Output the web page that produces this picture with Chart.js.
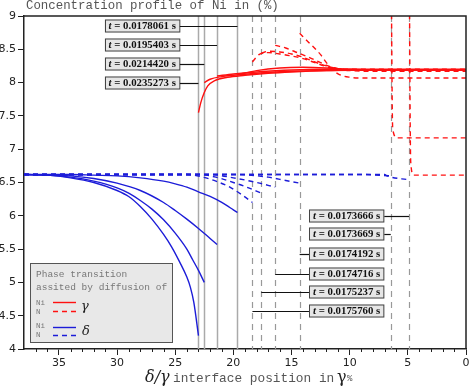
<!DOCTYPE html>
<html>
<head>
<meta charset="utf-8">
<script src="https://cdn.jsdelivr.net/npm/chart.js@4.4.1/dist/chart.umd.min.js"></script>
<style>
  body { margin: 0; background: #fff; }
</style>
</head>
<body>
<canvas id="chart" width="474" height="386"></canvas>
<script>
// profiles, x = interface position (%), y = Ni (%)
// gamma side, Ni (solid red)
var gNiX = [
  [23.0, 22.8, 22.5, 22.2, 21.6, 20.5, 19, 17, 15, 12, 8, 4, 0],
  [22.5, 22, 21, 20, 18, 15, 12, 8, 0],
  [21.4, 20, 18, 15, 12, 8, 0],
  [19.65, 18, 16, 14, 12, 10, 8, 0]
];
var gNiY = [
  [7.55, 7.7, 7.85, 7.95, 8.03, 8.08, 8.11, 8.14, 8.16, 8.18, 8.19, 8.19, 8.19],
  [8.0, 8.05, 8.09, 8.11, 8.14, 8.17, 8.18, 8.19, 8.19],
  [8.1, 8.13, 8.16, 8.19, 8.2, 8.2, 8.2],
  [8.12, 8.18, 8.22, 8.23, 8.22, 8.2, 8.19, 8.19]
];
// gamma side, N (dashed red)
var gNX = [
  [18.36, 17.8, 17, 16, 15, 14, 13, 12, 11, 10, 8, 4, 0],
  [17.6, 17, 16, 15, 14, 13, 12, 11, 10, 0],
  [16.4, 15.5, 14.5, 13.5, 12.5, 11.5, 10.5, 0],
  [14.3, 13.5, 12.5, 12, 11.5, 11, 10, 9, 0],
  [6.47, 6.4, 6.3, 5.9, 0],
  [4.9, 4.85, 4.75, 4.5, 0]
];
var gNY = [
  [8.31, 8.42, 8.45, 8.43, 8.4, 8.36, 8.3, 8.24, 8.2, 8.18, 8.17, 8.17, 8.17],
  [8.44, 8.47, 8.46, 8.43, 8.38, 8.31, 8.25, 8.21, 8.19, 8.19],
  [8.56, 8.52, 8.45, 8.38, 8.3, 8.23, 8.2, 8.2],
  [8.74, 8.6, 8.42, 8.3, 8.2, 8.13, 8.08, 8.07, 8.07],
  [12, 9, 7.3, 7.17, 7.17],
  [12, 9, 6.8, 6.61, 6.61]
];
// delta side, Ni (solid blue)
var dNiX = [
  [38, 36, 34, 32, 30, 28, 26, 25, 24, 23, 22, 21, 20, 19.65],
  [38, 36, 34, 32, 30, 28, 26, 25, 24, 23, 22, 21.4],
  [38, 36, 34, 32, 30, 29, 28, 27, 26, 25, 24, 23.5, 23, 22.5],
  [38, 36, 34, 32, 30, 29, 28, 27, 26, 25.3, 24.6, 24, 23.7, 23.4, 23.0]
];
var dNiY = [
  [6.62, 6.62, 6.62, 6.61, 6.6, 6.57, 6.52, 6.48, 6.43, 6.36, 6.29, 6.2, 6.09, 6.05],
  [6.62, 6.615, 6.6, 6.56, 6.49, 6.38, 6.2, 6.08, 5.95, 5.81, 5.66, 5.57],
  [6.62, 6.61, 6.58, 6.52, 6.42, 6.34, 6.23, 6.1, 5.94, 5.74, 5.5, 5.34, 5.18, 5.0],
  [6.62, 6.61, 6.57, 6.5, 6.38, 6.29, 6.14, 5.95, 5.72, 5.53, 5.3, 5.08, 4.93, 4.7, 4.2]
];
// delta side, N (dashed blue)
var dNX = [
  [38, 24, 22.6, 21.5, 20.3, 19.3, 18.36],
  [38, 23, 21.5, 20, 19, 17.6],
  [38, 22, 20, 18, 16.4],
  [38, 20, 17, 15.5, 14.3],
  [38, 9, 6.47],
  [38, 7, 6.8, 4.9]
];
var dNY = [
  [6.62, 6.62, 6.58, 6.52, 6.43, 6.32, 6.2],
  [6.62, 6.62, 6.58, 6.5, 6.44, 6.34],
  [6.62, 6.62, 6.57, 6.5, 6.43],
  [6.62, 6.62, 6.58, 6.53, 6.49],
  [6.62, 6.62, 6.6],
  [6.62, 6.62, 6.6, 6.54]
];

// interface positions of the snapshots
var solidTimes = [19.65, 21.4, 22.5, 23.0];
var dashedTimes = [18.36, 17.6, 16.4, 14.3, 6.47, 4.9];
var topLabels = ["0.0178061", "0.0195403", "0.0214420", "0.0235273"];
var topLabelAt = [19.65, 21.4, 22.5, 23.0];
var bottomLabels = ["0.0173666", "0.0173669", "0.0174192", "0.0174716", "0.0175237", "0.0175760"];
var bottomLabelAt = [4.9, 6.47, 14.3, 16.4, 17.6, 18.36];

// where the label boxes sit (data coords)
var topBoxRight = 24.6, topBoxY = [8.85, 8.565, 8.28, 8.0];
var botBoxLeft = 13.5, botBoxY = [6.0, 5.73, 5.43, 5.13, 4.86, 4.57];

var RED = "#ff1010", BLUE = "#1c1cd8";
var LFONT = "10.8px 'Liberation Serif'";

function makeSets(xs, ys, color, dashed) {
  return xs.map(function (xa, i) {
    return {
      data: xa.map(function (v, j) { return { x: v, y: ys[i][j] }; }),
      borderColor: color,
      borderWidth: 1.4,
      borderDash: dashed ? [5, 4] : [],
      pointRadius: 0,
      fill: false,
      cubicInterpolationMode: "monotone"
    };
  });
}

var datasets = [].concat(
  makeSets(dNX, dNY, BLUE, true),
  makeSets(dNiX, dNiY, BLUE, false),
  makeSets(gNX, gNY, RED, true),
  makeSets(gNiX, gNiY, RED, false)
);

function labelWidth(ctx, txt) {
  ctx.font = "italic bold " + LFONT;
  var w1 = ctx.measureText("t").width;
  ctx.font = "bold " + LFONT;
  return w1 + ctx.measureText(" = " + txt + " s").width + 8;
}

function drawLabel(ctx, txt, xLeft, yc) {
  ctx.font = "italic bold " + LFONT;
  var w1 = ctx.measureText("t").width;
  var rest = " = " + txt + " s";
  var w = labelWidth(ctx, txt), h = 13;
  ctx.fillStyle = "#e6e6e6";
  ctx.fillRect(xLeft, yc - h / 2, w, h);
  ctx.strokeStyle = "#444";
  ctx.lineWidth = 1;
  ctx.strokeRect(Math.round(xLeft) + 0.5, yc - h / 2 + 0.5, w - 1, h - 1);
  ctx.fillStyle = "#111";
  ctx.textBaseline = "middle";
  ctx.textAlign = "left";
  ctx.font = "italic bold " + LFONT;
  ctx.fillText("t", xLeft + 4, yc + 0.5);
  ctx.font = "bold " + LFONT;
  ctx.fillText(rest, xLeft + 4 + w1, yc + 0.5);
  return w;
}

var decor = {
  id: "decor",
  beforeDatasetsDraw: function (chart) {
    var ctx = chart.ctx, a = chart.chartArea, x = chart.scales.x;
    ctx.save();
    ctx.strokeStyle = "#aaa";
    ctx.lineWidth = 1.5;
    solidTimes.forEach(function (v) {
      var px = Math.round(x.getPixelForValue(v)) + 0.5;
      ctx.beginPath(); ctx.moveTo(px, a.top); ctx.lineTo(px, a.bottom); ctx.stroke();
    });
    ctx.strokeStyle = "#999";
    ctx.lineWidth = 1.2;
    ctx.setLineDash([6, 5]);
    dashedTimes.forEach(function (v) {
      var px = Math.round(x.getPixelForValue(v)) + 0.5;
      ctx.beginPath(); ctx.moveTo(px, a.top); ctx.lineTo(px, a.bottom); ctx.stroke();
    });
    ctx.restore();
  },
  afterDraw: function (chart) {
    var ctx = chart.ctx, a = chart.chartArea, x = chart.scales.x, y = chart.scales.y;
    ctx.save();
    // frame top/right
    ctx.strokeStyle = "#222";
    ctx.lineWidth = 1.5;
    ctx.beginPath();
    ctx.moveTo(a.left, a.top); ctx.lineTo(a.right, a.top); ctx.lineTo(a.right, a.bottom);
    ctx.stroke();
    // minor ticks on x
    ctx.lineWidth = 1;
    for (var v = 1; v < 38; v++) {
      if (v % 5 === 0) continue;
      var px = Math.round(x.getPixelForValue(v)) + 0.5;
      ctx.beginPath(); ctx.moveTo(px, a.bottom); ctx.lineTo(px, a.bottom + 3); ctx.stroke();
    }

    // time labels + connectors
    var i, yc, w, lx;
    for (i = 0; i < topLabels.length; i++) {
      yc = Math.round(y.getPixelForValue(topBoxY[i]));
      var xr = x.getPixelForValue(topBoxRight);
      w = labelWidth(ctx, topLabels[i]);
      drawLabel(ctx, topLabels[i], xr - w, yc);
      lx = x.getPixelForValue(topLabelAt[i]);
      ctx.strokeStyle = "#111"; ctx.lineWidth = 1.2;
      ctx.beginPath(); ctx.moveTo(xr, yc + 0.5); ctx.lineTo(lx, yc + 0.5); ctx.stroke();
    }
    for (i = 0; i < bottomLabels.length; i++) {
      yc = Math.round(y.getPixelForValue(botBoxY[i]));
      var xl = x.getPixelForValue(botBoxLeft);
      w = drawLabel(ctx, bottomLabels[i], xl, yc);
      lx = x.getPixelForValue(bottomLabelAt[i]);
      ctx.strokeStyle = "#111"; ctx.lineWidth = 1.2;
      ctx.beginPath();
      if (lx > xl + w) { ctx.moveTo(xl + w, yc + 0.5); }
      else { ctx.moveTo(xl, yc + 0.5); }
      ctx.lineTo(lx, yc + 0.5);
      ctx.stroke();
    }

    // legend box
    var bx = a.left + 6, by = a.bottom - 86;
    ctx.fillStyle = "#e8e8e8";
    ctx.fillRect(bx, by, 143, 80);
    ctx.strokeStyle = "#555"; ctx.lineWidth = 1;
    ctx.strokeRect(bx + 0.5, by + 0.5, 142, 79);
    ctx.fillStyle = "#777";
    ctx.textAlign = "left";
    ctx.textBaseline = "alphabetic";
    ctx.font = "9.5px 'Liberation Mono'";
    ctx.fillText("Phase transition", bx + 6, by + 14);
    ctx.fillText("assited by diffusion of", bx + 6, by + 27);
    ctx.font = "7.5px 'Liberation Mono'";
    ctx.fillText("Ni", bx + 6, by + 42);
    ctx.fillText("N", bx + 6, by + 51);
    ctx.fillText("Ni", bx + 6, by + 65);
    ctx.fillText("N", bx + 6, by + 74);
    ctx.lineWidth = 1.4;
    function seg(col, yy, dash) {
      ctx.strokeStyle = col;
      ctx.setLineDash(dash);
      ctx.beginPath(); ctx.moveTo(bx + 23, yy); ctx.lineTo(bx + 46, yy); ctx.stroke();
    }
    seg(RED, by + 39.5, []);
    seg(RED, by + 48.5, [5, 4]);
    seg(BLUE, by + 64.5, []);
    seg(BLUE, by + 72.5, [5, 4]);
    ctx.setLineDash([]);
    ctx.fillStyle = "#222";
    ctx.font = "italic 13px 'DejaVu Serif'";
    ctx.fillText("\u03b3", bx + 51, by + 47);
    ctx.fillText("\u03b4", bx + 52, by + 72);

    // title
    ctx.fillStyle = "#555";
    ctx.font = "12.4px 'Liberation Mono'";
    ctx.fillText("Concentration profile of Ni in (%)", 26, 9);

    // x axis title
    var base = 382;
    ctx.fillStyle = "#222";
    ctx.font = "italic 16px 'DejaVu Serif'";
    ctx.fillText("\u03b4/\u03b3", 145, base);
    ctx.fillStyle = "#555";
    ctx.font = "12.8px 'Liberation Mono'";
    ctx.fillText("interface position in", 173, base);
    ctx.fillStyle = "#222";
    ctx.font = "16px 'DejaVu Serif'";
    ctx.fillText("\u03b3", 337, base);
    ctx.fillStyle = "#555";
    ctx.font = "9px 'Liberation Mono'";
    ctx.fillText("%", 347, base - 1);
    ctx.restore();
  }
};

var mychart = new Chart("chart", {
  type: "line",
  data: { datasets: datasets },
  options: {
    responsive: false,
    animation: false,
    layout: { padding: { top: 16, right: 8, left: 0, bottom: 0 } },
    plugins: {
      legend: { display: false },
      tooltip: { enabled: false }
    },
    scales: {
      x: {
        type: "linear",
        reverse: true,
        min: 0,
        max: 38,
        afterFit: function (s) { s.height = 37; },
        ticks: {
          stepSize: 5,
          maxRotation: 0,
          color: "#222",
          padding: 2,
          font: { size: 11, family: "DejaVu Sans" },
          callback: function (v) { return v % 5 === 0 ? String(v) : ""; }
        },
        grid: {
          drawOnChartArea: false,
          tickLength: 6,
          tickColor: function (c) { return c.tick && c.tick.value % 5 === 0 ? "#222" : "rgba(0,0,0,0)"; }
        },
        border: { color: "#222", width: 1.5 }
      },
      y: {
        min: 4,
        max: 9,
        afterFit: function (s) { s.width = 24; },
        ticks: {
          stepSize: 0.5,
          color: "#222",
          padding: 2,
          font: { size: 11, family: "DejaVu Sans" },
          callback: function (v) { return String(v); }
        },
        grid: { drawOnChartArea: false, tickLength: 6, tickColor: "#222" },
        border: { color: "#222", width: 1.5 }
      }
    }
  },
  plugins: [decor]
});
</script>
</body>
</html>
